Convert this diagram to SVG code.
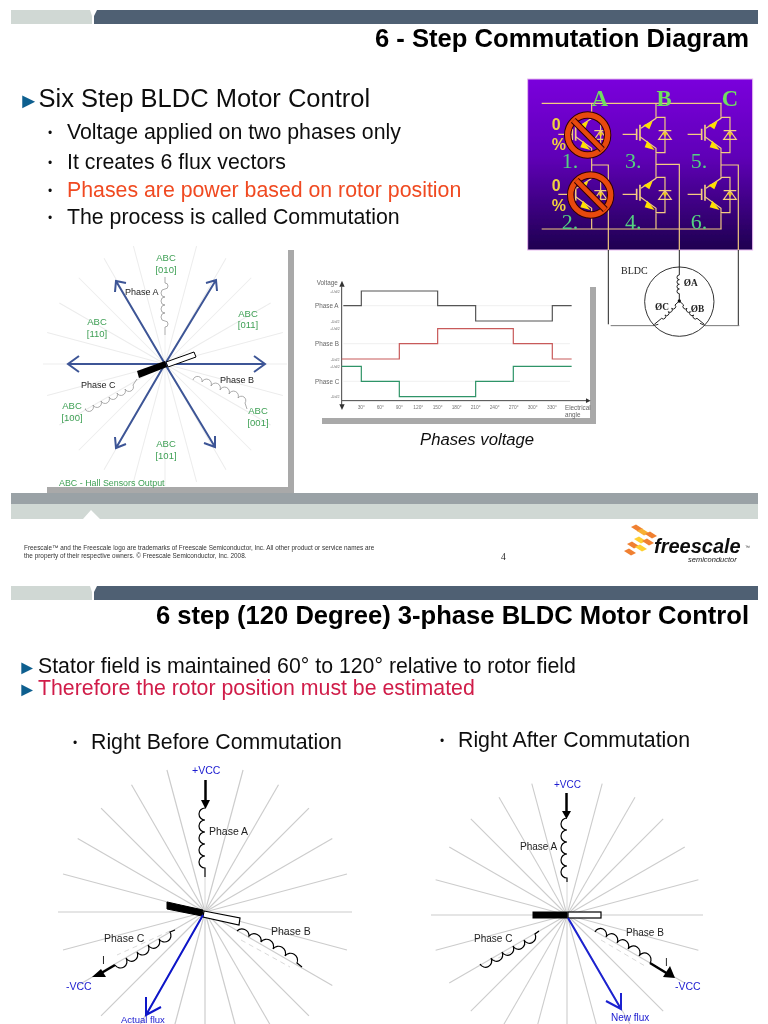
<svg xmlns="http://www.w3.org/2000/svg" xmlns:xlink="http://www.w3.org/1999/xlink" width="768" height="1024" viewBox="0 0 768 1024">
<style>
text{font-family:"Liberation Sans",Arial,sans-serif}
.t{font-weight:bold;fill:#000;font-size:25.600px;text-anchor:end}
.b{font-size:21.300px;fill:#111}
.d{font-size:12px;fill:#111}
.mark{fill:#0f5f8f}
.g{font-size:9.500px;fill:#3fa055;text-anchor:middle}
.k{font-size:9px;fill:#222}
.p{font-size:10.500px;fill:#222}
.p2{font-size:10px;fill:#222}
.v{font-size:10.500px;fill:#1a1ad0}
.sp{stroke:#cccccc;stroke-width:.8;fill:none}
.sp0{stroke:#ececec;stroke-width:.8;fill:none}
.blue{stroke:#3d5596;stroke-width:2;fill:none}
.coil{fill:none;stroke:#000;stroke-width:1.200}
.dash{stroke:#c8c8c8;stroke-width:.7;stroke-dasharray:5 4;fill:none}
.fl{fill:none;stroke:#0c12c8;stroke-width:2}
.thick{stroke:#000;stroke-width:2.500;fill:none}
.gx{font-size:19px;fill:#666}
.cl{fill:none;stroke:#f4cc80;stroke-width:3.500}
.sw{fill:#ffe000}
.gr{font-family:"Liberation Serif",serif;fill:#55d080;font-size:66px}
.hd{font-family:"Liberation Serif",serif;font-weight:bold;fill:#70e060;font-size:68px;text-anchor:middle}
.pc{font-weight:bold;fill:#f0d040;font-size:48px}
.mo{font-family:"Liberation Serif",serif;font-size:30px;fill:#222}
.mb{font-family:"Liberation Serif",serif;font-size:28px;font-weight:bold;fill:#222}
.ft{font-size:6.400px;fill:#333}
</style>
<defs>
<filter id="soft" filterUnits="userSpaceOnUse" x="0" y="0" width="768" height="1024"><feGaussianBlur stdDeviation="0.35"/></filter>
<linearGradient id="pur" x1="0" y1="0" x2="0" y2="1"><stop offset="0" stop-color="#7a00dc"/><stop offset=".45" stop-color="#6000b8"/><stop offset="1" stop-color="#1e0050"/></linearGradient>
<g id="sp">
<line x2="100"/><line x2="100" transform="rotate(15)"/><line x2="100" transform="rotate(30)"/><line x2="100" transform="rotate(45)"/><line x2="100" transform="rotate(60)"/><line x2="100" transform="rotate(75)"/><line x2="100" transform="rotate(90)"/><line x2="100" transform="rotate(105)"/><line x2="100" transform="rotate(120)"/><line x2="100" transform="rotate(135)"/><line x2="100" transform="rotate(150)"/><line x2="100" transform="rotate(165)"/><line x2="100" transform="rotate(180)"/><line x2="100" transform="rotate(195)"/><line x2="100" transform="rotate(210)"/><line x2="100" transform="rotate(225)"/><line x2="100" transform="rotate(240)"/><line x2="100" transform="rotate(255)"/><line x2="100" transform="rotate(285)"/><line x2="100" transform="rotate(300)"/><line x2="100" transform="rotate(315)"/><line x2="100" transform="rotate(330)"/><line x2="100" transform="rotate(345)"/>
</g>
<g id="igbt">
<path class="cl" d="M0,0V5L-45,35M-100,53H-58M-48,60L0,95V110M0,2H27V108H0M27,42L8,68H46ZM8,42H46"/>
<path d="M-48,24V72M-58,36V70" fill="none" stroke="#f4cc80" stroke-width="5"/>
<polygon class="sw" points="-38,26 -10,14 -20,38"/>
<polygon class="sw" points="-26,72 -4,100 -34,92"/>
<polygon class="sw" points="18,48 36,48 27,62" opacity=".7"/>
</g>
<polygon id="chip" points="-6,-1 -1,-3.500 6,1 1,3.500"/>
</defs>
<rect width="768" height="1024" fill="#fff"/>
<g filter="url(#soft)">
<g id="header1">
<polygon points="11,10 90,10 92,16 92,24 11,24" fill="#d0d8d4"/>
<polygon points="97,10 758,10 758,24 94,24 94,16" fill="#4f6173"/>
<text class="t" x="749" y="47">6 - Step Commutation Diagram</text>
</g>
<g id="intro">
<text class="mark" x="18" y="107.600" font-size="21.600">►</text>
<text x="38.500" y="107" font-size="25.500" fill="#111">Six Step BLDC Motor Control</text>
<text class="d" x="48" y="137">•</text><text class="b" x="67" y="139">Voltage applied on two phases only</text>
<text class="d" x="48" y="167">•</text><text class="b" x="67" y="169">It creates 6 flux vectors</text>
<text class="d" x="48" y="195">•</text><text class="b" x="67" y="197" style="fill:#f04a20">Phases are power based on rotor position</text>
<text class="d" x="48" y="222">•</text><text class="b" x="67" y="224">The process is called Commutation</text>
</g>
<g id="vector-diagram">
<rect x="288" y="250" width="6" height="243" fill="#a9a9a9"/>
<rect x="47" y="487" width="247" height="6" fill="#a9a9a9"/>
<use xlink:href="#sp" href="#sp" class="sp0" transform="translate(165,364) scale(1.22)"/>
<line class="sp0" x1="165" y1="364" x2="165" y2="335"/>
<g id="vectors">
<path class="blue" d="M165,364L116,281M126,283L116,281L115,292M165,364L216,280M206,283L216,280L217,291M165,364H68M79,356L68,364L79,372M165,364H265M254,356L265,364L254,372M165,364L116,448M115,437L116,448L126,444M165,364L215,447M204,443L215,447L215,436"/>
</g>
<g id="vector-coils" fill="none" stroke="#888" stroke-width=".7">
<path d="M165,277V283a3,3 0 0 1 0,6a3,3 0 0 0 0,8a3,3 0 0 0 0,8a3,3 0 0 0 0,8a3,3 0 0 0 0,8a3,3 0 0 1 0,6V335"/>
<path d="M137,379L133,385a4,4 0 0 1 -8,4a4,4 0 0 1 -8,4a4,4 0 0 1 -8,4a4,4 0 0 1 -8,4a4,4 0 0 1 -8,4a4,4 0 0 1 -8,4L86,409"/>
<path d="M193,380a4,4 0 0 1 9,2a4,4 0 0 1 9,4a4,4 0 0 1 9,4a4,4 0 0 1 9,4a4,4 0 0 1 9,4a4,4 0 0 1 7,5L247,409"/>
</g>
<g id="vector-rotor">
<polygon points="137,371 165,361 167,367 139,378" fill="#000"/>
<polygon points="166,362 194,352 196,357 168,367" fill="#fff" stroke="#000" stroke-width="1"/>
</g>
<g id="vector-labels">
<text class="g" x="166" y="261">ABC</text><text class="g" x="166" y="273">[010]</text>
<text class="g" x="248" y="317">ABC</text><text class="g" x="248" y="328">[011]</text>
<text class="g" x="97" y="325">ABC</text><text class="g" x="97" y="337">[110]</text>
<text class="g" x="72" y="409">ABC</text><text class="g" x="72" y="421">[100]</text>
<text class="g" x="258" y="414">ABC</text><text class="g" x="258" y="426">[001]</text>
<text class="g" x="166" y="447">ABC</text><text class="g" x="166" y="459">[101]</text>
<text x="59" y="486" font-size="8.900" fill="#3fa055">ABC - Hall Sensors Output</text>
<text class="k" x="125" y="295">Phase A</text>
<text class="k" x="220" y="383">Phase B</text>
<text class="k" x="81" y="388">Phase C</text>
</g>
</g>
<g id="voltage-chart">
<rect x="590" y="287" width="6" height="137" fill="#a9a9a9"/>
<rect x="322" y="418" width="274" height="6" fill="#a9a9a9"/>
<g transform="translate(300,270) scale(.3333)">
<path d="M125,50V412M126,392H860" stroke="#444" stroke-width="3" fill="none"/>
<path d="M118,50L126,32L134,50ZM118,403L126,420L134,403ZM858,385L872,392L858,399Z" fill="#333"/>
<path d="M130,107H810M130,221H810M130,334H810" stroke="#e8e8e8" stroke-width="2" fill="none"/>
<path d="M130,107H184V63H413V107H527V153H757V107H815" fill="none" stroke="#555" stroke-width="3.600"/>
<path d="M125,267H298V221H413V176H640V221H757V267H815" fill="none" stroke="#c85a5a" stroke-width="3.600"/>
<path d="M125,289H184V334H298V380H527V334H640V289H815" fill="none" stroke="#2f9468" stroke-width="3.600"/>
<text class="gx" x="50" y="44">Voltage</text>
<text class="gx" x="45" y="115">Phase A</text><text class="gx" x="45" y="228">Phase B</text><text class="gx" x="45" y="342">Phase C</text>
<g style="font-size:11px;fill:#777">
<text x="90" y="70">+Ud/2</text><text x="92" y="160">-Ud/2</text><text x="90" y="181">+Ud/2</text><text x="92" y="272">-Ud/2</text><text x="90" y="294">+Ud/2</text><text x="92" y="385">-Ud/2</text>
</g>
<g style="font-size:14.500px;fill:#777">
<text x="173" y="417">30°</text><text x="230" y="417">60°</text><text x="287" y="417">90°</text><text x="340" y="417">120°</text><text x="398" y="417">150°</text><text x="455" y="417">180°</text><text x="512" y="417">210°</text><text x="569" y="417">240°</text><text x="626" y="417">270°</text><text x="683" y="417">300°</text><text x="741" y="417">330°</text>
</g>
<text class="gx" x="795" y="421">Electrical</text><text class="gx" x="795" y="442">angle</text>
</g>
<text x="420" y="445" font-size="16.700" font-style="italic" fill="#111">Phases voltage</text>
</g>
<g id="inverter" transform="translate(520,75) scale(.3333)">
<rect x="23" y="12" width="675" height="513" fill="url(#pur)" stroke="#e8b8f0" stroke-width="3"/>
<path class="cl" d="M65,85H605M65,462H605M215,85V125M408,85V125M603,85V125M215,235V305M408,235V305M603,235V305M215,415V462M408,415V462M603,415V462M215,270H265V525M408,268H478V525M603,270H655V525"/>
<use xlink:href="#igbt" href="#igbt" x="215" y="125"/><use xlink:href="#igbt" href="#igbt" x="408" y="125"/><use xlink:href="#igbt" href="#igbt" x="603" y="125"/>
<use xlink:href="#igbt" href="#igbt" x="215" y="305"/><use xlink:href="#igbt" href="#igbt" x="408" y="305"/><use xlink:href="#igbt" href="#igbt" x="603" y="305"/>
<g id="no1"><circle cx="203" cy="180" r="60" fill="none" stroke="#300" stroke-width="22"/><circle cx="203" cy="180" r="60" fill="none" stroke="#e84a10" stroke-width="16"/><line x1="160" y1="136" x2="247" y2="224" stroke="#300" stroke-width="20"/><line x1="160" y1="136" x2="247" y2="224" stroke="#e84a10" stroke-width="14"/></g>
<g id="no2"><circle cx="212" cy="360" r="60" fill="none" stroke="#300" stroke-width="22"/><circle cx="212" cy="360" r="60" fill="none" stroke="#e84a10" stroke-width="16"/><line x1="169" y1="316" x2="256" y2="404" stroke="#300" stroke-width="20"/><line x1="169" y1="316" x2="256" y2="404" stroke="#e84a10" stroke-width="14"/></g>
<text class="hd" x="240" y="92">A</text><text class="hd" x="432" y="92">B</text><text class="hd" x="630" y="92">C</text>
<text class="gr" x="125" y="278">1.</text><text class="gr" x="315" y="278">3.</text><text class="gr" x="512" y="278">5.</text>
<text class="gr" x="125" y="461">2.</text><text class="gr" x="315" y="461">4.</text><text class="gr" x="512" y="461">6.</text>
<text class="pc" x="95" y="164">0</text><text class="pc" x="95" y="224">%</text>
<text class="pc" x="95" y="347">0</text><text class="pc" x="95" y="408">%</text>
</g>
<g id="motor" transform="translate(520,75) scale(.3333)">
<path d="M265,525V748M478,525V590M655,525V752" fill="none" stroke="#222" stroke-width="3"/>
<path d="M272,752H400M556,752H658" fill="none" stroke="#777" stroke-width="3"/>
<circle cx="478" cy="680" r="104" fill="#fff" stroke="#333" stroke-width="3"/>
<path d="M400,752L415,748M556,752L540,745" stroke="#333" stroke-width="3"/>
<g fill="none" stroke="#222" stroke-width="3">
<path d="M478,575V600a7,7 0 0 0 0,14a7,7 0 0 0 0,14a7,7 0 0 0 0,14a7,7 0 0 0 0,14V678"/>
<path d="M478,678L465,690a7,7 0 0 1 -10,10a7,7 0 0 1 -10,10a7,7 0 0 1 -10,10a7,7 0 0 1 -10,10L403,748"/>
<path d="M478,678L491,690a7,7 0 0 0 10,10a7,7 0 0 0 10,10a7,7 0 0 0 10,10a7,7 0 0 0 10,10L553,748"/>
</g>
<circle cx="478" cy="678" r="5" fill="#111"/>
<text class="mo" x="303" y="598">BLDC</text>
<text class="mb" x="491" y="632">ØA</text><text class="mb" x="405" y="706">ØC</text><text class="mb" x="512" y="711">ØB</text>
</g>
<g id="footer">
<rect x="11" y="493" width="747" height="11" fill="#9aa2a6"/>
<polygon points="11,504 758,504 758,519 100,519 91,510 83,519 11,519" fill="#d0d8d4"/>
<text class="ft" x="24" y="550">Freescale™ and the Freescale logo are trademarks of Freescale Semiconductor, Inc. All other product or service names are</text>
<text class="ft" x="24" y="558">the property of their respective owners. © Freescale Semiconductor, Inc. 2008.</text>
<text x="501" y="560" font-size="9.500" fill="#222" style="font-family:'Liberation Serif',serif">4</text>
<g id="logo">
<use xlink:href="#chip" href="#chip" x="637" y="528" fill="#f08030"/><use xlink:href="#chip" href="#chip" x="643" y="532" fill="#f8b030"/><use xlink:href="#chip" href="#chip" x="651" y="535" fill="#f08030"/>
<use xlink:href="#chip" href="#chip" x="640" y="540" fill="#ffd030"/><use xlink:href="#chip" href="#chip" x="648" y="542" fill="#f08030"/><use xlink:href="#chip" href="#chip" x="633" y="545" fill="#f08030"/>
<use xlink:href="#chip" href="#chip" x="641" y="548" fill="#ffd030"/><use xlink:href="#chip" href="#chip" x="630" y="552" fill="#f08030"/>
<text x="654" y="553" font-size="20" font-weight="bold" font-style="italic" fill="#111">freescale</text>
<text x="745" y="549" font-size="5" fill="#333">™</text>
<text x="688" y="562" font-size="7.500" font-style="italic" fill="#222">semiconductor</text>
</g>
</g>
<g id="header2">
<polygon points="11,586 90,586 92,592 92,600 11,600" fill="#d0d8d4"/>
<polygon points="97,586 758,586 758,600 94,600 94,592" fill="#4f6173"/>
<text class="t" x="749" y="624">6 step (120 Degree) 3-phase BLDC Motor Control</text>
</g>
<g id="intro2">
<text class="mark" x="17.600" y="674" font-size="19.500">►</text>
<text class="b" x="38" y="673">Stator field is maintained 60° to 120° relative to rotor field</text>
<text class="mark" x="17.600" y="696" font-size="19.500">►</text>
<text class="b" x="38" y="695" style="fill:#d01c48">Therefore the rotor position must be estimated</text>
<text class="d" x="73" y="747">•</text><text class="b" x="91" y="749">Right Before Commutation</text>
<text class="d" x="440" y="745">•</text><text class="b" x="458" y="747">Right After Commutation</text>
</g>
<g id="before">
<use xlink:href="#sp" href="#sp" class="sp" transform="translate(205,912) scale(1.47)"/>
<line class="sp" x1="205" y1="912" x2="205" y2="877"/>
<path class="dash" d="M241,940L290,967M170,931L117,955"/>
<path class="coil" d="M205,808a6,6 0 0 0 0,12a6,6 0 0 0 0,12a6,6 0 0 0 0,12a6,6 0 0 0 0,12a6,6 0 0 0 0,12V877"/>
<path class="coil" d="M237,931a7,7 0 0 1 12,5a7,7 0 0 1 12,6a7,7 0 0 1 12,7a7,7 0 0 1 12,7a7,7 0 0 1 12,7L302,967"/>
<path class="coil" d="M175,930L170,932a6,6 0 0 1 -11,7a6,6 0 0 1 -11,6a6,6 0 0 1 -11,7a6,6 0 0 1 -11,6a6,6 0 0 1 -11,7"/>
<polygon points="167,902 203,910 202,916 167,909" fill="#000" stroke="#000"/>
<polygon points="204,911 240,918 239,925 203,917" fill="#fff" stroke="#000" stroke-width="1.200"/>
<path class="thick" d="M205.500,780V806"/><polygon points="201,800 210,800 205.500,809" fill="#000"/>
<path class="thick" d="M115,965L98,975"/><polygon points="101,969 106,977 92,977" fill="#000"/>
<path class="fl" d="M203,915L146,1015M146,997L146,1015L161,1007"/>
<text class="v" x="192" y="774">+VCC</text><text class="v" x="66" y="990">-VCC</text>
<text class="p" x="209" y="835">Phase A</text><text class="p" x="271" y="935">Phase B</text><text class="p" x="104" y="942">Phase C</text>
<text class="p" x="102" y="964">I</text>
<text class="v" x="121" y="1023" style="font-size:9.500px">Actual flux</text>
</g>
<g id="after">
<use xlink:href="#sp" href="#sp" class="sp" transform="translate(567,915) scale(1.36)"/>
<line class="sp" x1="567" y1="915" x2="567" y2="882"/>
<path class="dash" d="M601,940L645,966M535,940L490,962"/>
<path class="coil" d="M567,818a6,6 0 0 0 0,12a6,6 0 0 0 0,12a6,6 0 0 0 0,12a6,6 0 0 0 0,12a6,6 0 0 0 0,12V882"/>
<path class="coil" d="M595,932a6,6 0 0 1 11,5a6,6 0 0 1 11,6a6,6 0 0 1 11,6a6,6 0 0 1 11,7a6,6 0 0 1 11,7"/>
<path class="coil" d="M539,931L535,934a6,6 0 0 1 -11,6a6,6 0 0 1 -11,6a6,6 0 0 1 -11,6a6,6 0 0 1 -11,6a6,6 0 0 1 -11,6"/>
<rect x="533" y="912" width="34" height="6" fill="#000" stroke="#000"/>
<rect x="568" y="912" width="33" height="6" fill="#fff" stroke="#000" stroke-width="1.200"/>
<path class="thick" d="M566.500,793V816"/><polygon points="562,811 571,811 566.500,819" fill="#000"/>
<path class="thick" d="M650,963L668,974"/><polygon points="663,977 670,966 675,978" fill="#000"/>
<path class="fl" d="M568,918L621,1009M606,1001L621,1009L621,993" style="stroke:#1a20d0"/>
<text class="v" x="554" y="788" style="font-size:10px">+VCC</text><text class="v" x="675" y="990">-VCC</text>
<text class="p2" x="520" y="850">Phase A</text><text class="p2" x="626" y="936">Phase B</text><text class="p2" x="474" y="942">Phase C</text>
<text class="p2" x="665" y="966">I</text>
<text class="v" x="611" y="1021" style="font-size:10px">New flux</text>
</g>
</g>
</svg>
